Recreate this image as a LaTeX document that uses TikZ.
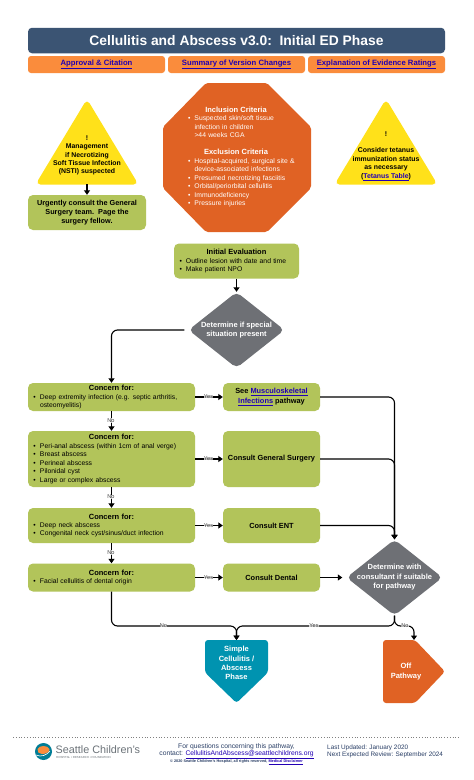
\documentclass[tikz,border=0pt]{standalone}
\usepackage{fontspec}
\setmainfont{Liberation Sans}
\usetikzlibrary{shapes.geometric,arrows.meta,calc}
\definecolor{navyt}{HTML}{3B5473}
\definecolor{orl}{HTML}{FA8C3C}
\definecolor{orr}{HTML}{E06224}
\definecolor{grn}{HTML}{B2C45A}
\definecolor{gry}{HTML}{6E7075}
\definecolor{tealb}{HTML}{0093B0}
\definecolor{yel}{HTML}{FFE11A}
\definecolor{lnk}{HTML}{2200B4}
\definecolor{foot}{HTML}{2A3F66}
\definecolor{logog}{HTML}{6B7278}
\newcommand{\lk}[1]{\textcolor{lnk}{\underline{#1}}}
\newcommand{\li}[1]{\makebox[6.5pt][l]{•}#1}
\newcommand{\hd}[2]{\makebox[#1][c]{\fontsize{7.5}{8.4}\selectfont\bfseries #2}}
\newcommand{\fs}[2]{\fontsize{#1}{#2}\selectfont}
\tikzset{
  x=1pt,y=-1pt,
  greenbox/.style={fill=grn,rounded corners=5,inner xsep=5,inner ysep=0,align=left,text width=157,font=\fs{6.8}{8.45}},
  actbox/.style={fill=grn,rounded corners=5,inner sep=0,align=center,minimum width=97,font=\fs{7.4}{9.4}\bfseries},
  gdiamond/.style={diamond,fill=gry,rounded corners=5,inner sep=0,aspect=1.26},
  wtxt/.style={text=white,align=center,inner sep=0,font=\fs{7.5}{9.3}\bfseries},
  btxt/.style={text=black,align=center,inner sep=0,font=\fs{6.9}{8.45}\bfseries},
  flow/.style={draw=black,line width=1.1pt,rounded corners=6},
  arr/.style={flow,-{Triangle[width=6pt,length=4.5pt]}},
  lbl/.style={fill=white,fill opacity=.75,text opacity=1,text=black!75,inner sep=.3,font=\fs{5.6}{6}},
  linkbox/.style={fill=orl,rounded corners=3,inner sep=0,minimum width=137,minimum height=17,font=\fs{7.7}{8}\bfseries}
}
\begin{document}
\begin{tikzpicture}
\useasboundingbox (0,0) rectangle (474,780);
\fill[white] (0,0) rectangle (474,780);
% header
\node[fill=navyt,rounded corners=4,inner sep=0,minimum width=417,minimum height=25.5,text=white,font=\fs{13.85}{16}\bfseries] (title) at (236.5,40.5) {Cellulitis and Abscess v3.0:\ \ Initial ED Phase};
\node[linkbox] (l1) at (96.5,64.5) {\lk{Approval \& Citation}};
\node[linkbox] (l2) at (236.5,64.5) {\lk{Summary of Version Changes}};
\node[linkbox] (l3) at (376.5,64.5) {\lk{Explanation of Evidence Ratings}};
% triangles
\fill[yel,rounded corners=5] (87,99) -- (138.5,184.5) -- (35.5,184.5) -- cycle;
\fill[yel,rounded corners=5] (386,99) -- (437.5,184.5) -- (334.5,184.5) -- cycle;
\coordinate (tribase) at (87,184);
\node[btxt] (tl) at (87,155.4) {!\\Management\\if Necrotizing\\Soft Tissue Infection\\(NSTI) suspected};
\node[btxt] (tr) at (386,155.8) {!\\[8.45pt]Consider tetanus\\immunization status\\as necessary\\(\lk{Tetanus Table})};
\node[fill=grn,rounded corners=5,inner sep=0,minimum width=118,minimum height=35,align=center,font=\fs{7.3}{9.3}\bfseries] (urgent) at (87,212.5) {Urgently consult the General\\Surgery team.\ \ Page the\\surgery fellow.};
\draw[arr] (tribase) -- (urgent.north);
% octagon
\fill[orr,rounded corners=2] (206,83) -- (267,83) -- (311,127) -- (311,188) -- (267,232) -- (206,232) -- (163,188) -- (163,127) -- cycle;
\node[text=white,inner sep=0,text width=130,align=left,font=\fs{6.8}{8.45}] (crit) at (236,157) {%
\hd{130pt}{Inclusion Criteria}\\
\hspace*{17pt}\li{Suspected skin/soft tissue}\\
\hspace*{23.5pt}infection in children\\
\hspace*{23.5pt}>44 weeks CGA\\[8.45pt]
\hd{130pt}{Exclusion Criteria}\\
\hspace*{17pt}\li{Hospital-acquired, surgical site \&}\\
\hspace*{23.5pt}device-associated infections\\
\hspace*{17pt}\li{Presumed necrotizing fasciitis}\\
\hspace*{17pt}\li{Orbital/periorbital cellulitis}\\
\hspace*{17pt}\li{Immunodeficiency}\\
\hspace*{17pt}\li{Pressure injuries}};
% initial evaluation
\node[fill=grn,rounded corners=5,inner xsep=5,inner ysep=0,minimum height=35,text width=115,align=left,font=\fs{6.8}{8.45}] (init) at (236.5,261) {%
\hd{115pt}{Initial Evaluation}\\
\hspace*{.5pt}\li{Outline lesion with date and time}\\
\hspace*{.5pt}\li{Make patient NPO}};
\node[gdiamond,minimum width=96,minimum height=76] (d1) at (236.5,330) {};
\node[wtxt] (d1t) at (236.5,330.2) {Determine if special\\situation present};
\draw[arr] (init.south) -- (d1.north);
% concern boxes
\node[greenbox,minimum height=28] (c1) at (111.5,397) {%
\hd{157pt}{Concern for:}\\
\hspace*{.5pt}\li{Deep extremity infection (e.g. septic arthritis,}\\
\hspace*{7pt}osteomyelitis)};
\node[greenbox,minimum height=56] (c2) at (111.5,459) {%
\hd{157pt}{Concern for:}\\
\hspace*{.5pt}\li{Peri-anal abscess (within 1cm of anal verge)}\\
\hspace*{.5pt}\li{Breast abscess}\\
\hspace*{.5pt}\li{Perineal abscess}\\
\hspace*{.5pt}\li{Pilonidal cyst}\\
\hspace*{.5pt}\li{Large or complex abscess}};
\node[greenbox,minimum height=35] (c3) at (111.5,525.5) {%
\hd{157pt}{Concern for:}\\
\hspace*{.5pt}\li{Deep neck abscess}\\
\hspace*{.5pt}\li{Congenital neck cyst/sinus/duct infection}};
\node[greenbox,minimum height=28] (c4) at (111.5,577.5) {%
\hd{157pt}{Concern for:}\\
\hspace*{.5pt}\li{Facial cellulitis of dental origin}};
% action boxes
\node[actbox,minimum height=28] (a1) at (271.5,397) {See \lk{Musculoskeletal}\\\lk{Infections} pathway};
\node[actbox,minimum height=56] (a2) at (271.5,459) {Consult General Surgery};
\node[actbox,minimum height=35] (a3) at (271.5,525.5) {Consult ENT};
\node[actbox,minimum height=28] (a4) at (271.5,577.5) {Consult Dental};
% second diamond
\node[gdiamond,minimum width=96,minimum height=76] (d2) at (394.5,577.5) {};
\node[wtxt] (d2t) at (394.5,577.3) {Determine with\\consultant if suitable\\for pathway};
% end shapes
\fill[tealb,rounded corners=3] (205,640) -- (268,640) -- (268,672.5) -- (236.5,703) -- (205,672.5) -- cycle;
\fill[orr,rounded corners=3] (383,640) -- (415,640) -- (445,671.5) -- (415,703) -- (383,703) -- cycle;
\coordinate (simple) at (236.5,640);
\coordinate (offp) at (414,640);
\coordinate (m1) at (236.5,626);
\coordinate (m2) at (414,626);
\node[wtxt] (simplet) at (236.5,663) {Simple\\Cellulitis /\\Abscess\\Phase};
\node[wtxt] (offt) at (406,671.5) {Off\\Pathway};
% connectors
\draw[arr,shorten <=4pt] (d1.west) -| (c1.north);
\foreach \i/\j in {c1/a1,c2/a2,c3/a3,c4/a4}{\draw[arr] (\i.east) -- (\j.west);}
\foreach \i/\j in {c1/c2,c2/c3,c3/c4}{\draw[arr] (\i.south) -- (\j.north);}
\draw[arr] (a1.east) -| (d2.north);
\draw[arr] (a2.east) -| (d2.north);
\draw[arr] (a3.east) -| (d2.north);
\draw[arr,shorten >=4pt] (a4.east) -- (d2.west);
\draw[arr] (c4.south) |- (m1) -- (simple);
\draw[arr] (d2.south) |- (m1) -- (simple);
\draw[arr] (d2.south) |- (m2) -- (offp);
% labels
\node[lbl] (y1) at (208.5,397) {Yes};
\node[lbl] (y2) at (208.5,459) {Yes};
\node[lbl] (y3) at (208.5,525.5) {Yes};
\node[lbl] (y4) at (208.5,577.5) {Yes};
\node[lbl] (n1) at (111,420.7) {No};
\node[lbl] (n2) at (111,497) {No};
\node[lbl] (n3) at (111,552.7) {No};
\node[lbl] (n4) at (163.5,626) {No};
\node[lbl] (y5) at (314,626) {Yes};
\node[lbl] (n5) at (405,626) {No};
% footer
\draw[gray,line width=.8pt,dotted] (13,737.5) -- (460,737.5);
\fill[tealb!85!black] (43.5,751.5) circle (8.5);
\fill[orl] (37.5,749) .. controls (39,745) and (48,745) .. (49.5,749) .. controls (50,752.5) and (45,754) .. (42,754) .. controls (39,754) and (37,752) .. (37.5,749) -- cycle;
\draw[white,line width=.6pt] (36,755) .. controls (41,757.5) and (47,755) .. (50,751);
\node[text=logog,inner sep=0,anchor=west,font=\fs{10.8}{11}] (sc) at (55.5,749.5) {Seattle Children's};
\node[text=logog,inner sep=0,anchor=west,font=\fs{2.9}{3}] (scs) at (56,757.8) {HOSPITAL • RESEARCH • FOUNDATION};
\node[text=foot,inner sep=0,align=center,font=\fs{6.75}{7.6}] (f1) at (236.5,751.3) {\makebox[0pt][c]{For questions concerning this pathway,}\\\makebox[0pt][c]{contact: \lk{CellulitisAndAbscess@seattlechildrens.org}}};
\node[text=foot,inner sep=0,font=\fs{3.8}{4}\bfseries] (f2) at (236.5,762.5) {© 2020 Seattle Children's Hospital, all rights reserved, \lk{Medical Disclaimer}};
\node[text=foot,inner sep=0,align=left,anchor=west,font=\fs{6.4}{7.6}] (f3) at (327,751.3) {Last Updated: January 2020\\Next Expected Review: September 2024};
\end{tikzpicture}
\end{document}
